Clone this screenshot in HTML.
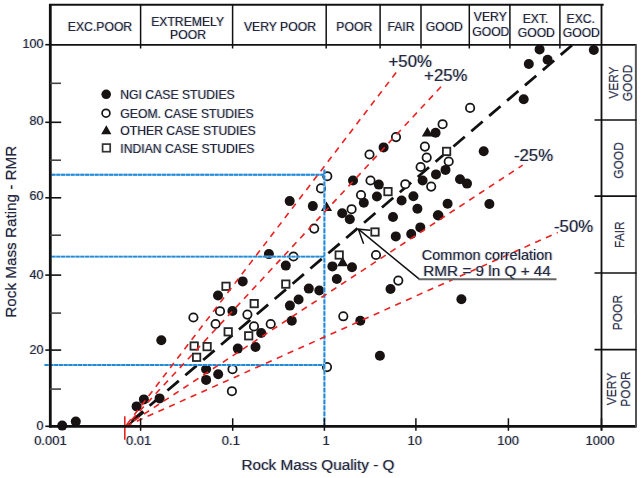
<!DOCTYPE html>
<html><head><meta charset="utf-8"><title>RMR vs Q</title>
<style>
html,body{margin:0;padding:0;background:#fff;}
body{width:641px;height:478px;overflow:hidden;}
svg{display:block;filter:blur(0.35px);}
</style></head>
<body>
<svg width="641" height="478" viewBox="0 0 641 478">
<rect width="641" height="478" fill="#fff"/>
<line x1="126.5" y1="425.5" x2="572.3" y2="45" stroke="#111" stroke-width="2.8" stroke-dasharray="14.9 8.6" stroke-dashoffset="16.66"/>
<polygon points="125.8,426.4 142.2,410.4 144.6,413.0 128.0,426.6" fill="#111"/>
<g fill="#181212">
<polygon points="326.5,201.6 332.1,211.0 320.9,211.0"/>
<polygon points="342.6,256.8 348.2,266.2 337.0,266.2"/>
<polygon points="427.4,127.0 433.0,136.4 421.8,136.4"/>
</g>
<g fill="#181212">
<circle cx="62.2" cy="425.6" r="5.0"/>
<circle cx="75.8" cy="421.6" r="5.0"/>
<circle cx="136.6" cy="406.4" r="5.0"/>
<circle cx="143.9" cy="399.4" r="5.0"/>
<circle cx="159.6" cy="398.4" r="5.0"/>
<circle cx="161.3" cy="340.3" r="5.0"/>
<circle cx="237.8" cy="348.6" r="5.0"/>
<circle cx="206.1" cy="369.2" r="5.0"/>
<circle cx="206.1" cy="379.9" r="5.0"/>
<circle cx="218.2" cy="374.3" r="5.0"/>
<circle cx="268.9" cy="254.1" r="5.0"/>
<circle cx="242.7" cy="281.4" r="5.0"/>
<circle cx="218.0" cy="295.5" r="5.0"/>
<circle cx="232.4" cy="311.0" r="5.0"/>
<circle cx="261.2" cy="333.0" r="5.0"/>
<circle cx="255.5" cy="347.0" r="5.0"/>
<circle cx="291.8" cy="320.8" r="5.0"/>
<circle cx="285.8" cy="265.6" r="5.0"/>
<circle cx="308.8" cy="288.6" r="5.0"/>
<circle cx="319.3" cy="290.5" r="5.0"/>
<circle cx="298.6" cy="299.5" r="5.0"/>
<circle cx="289.9" cy="305.6" r="5.0"/>
<circle cx="332.4" cy="266.4" r="5.0"/>
<circle cx="336.8" cy="279.0" r="5.0"/>
<circle cx="352.0" cy="267.2" r="5.0"/>
<circle cx="289.7" cy="201.1" r="5.0"/>
<circle cx="312.8" cy="206.1" r="5.0"/>
<circle cx="383.6" cy="147.4" r="5.0"/>
<circle cx="353.0" cy="180.5" r="5.0"/>
<circle cx="378.8" cy="184.6" r="5.0"/>
<circle cx="363.8" cy="202.8" r="5.0"/>
<circle cx="376.9" cy="196.5" r="5.0"/>
<circle cx="401.6" cy="200.5" r="5.0"/>
<circle cx="413.4" cy="196.3" r="5.0"/>
<circle cx="417.4" cy="208.8" r="5.0"/>
<circle cx="342.2" cy="213.2" r="5.0"/>
<circle cx="349.8" cy="219.2" r="5.0"/>
<circle cx="393.0" cy="217.0" r="5.0"/>
<circle cx="395.8" cy="236.4" r="5.0"/>
<circle cx="411.2" cy="234.0" r="5.0"/>
<circle cx="420.3" cy="227.4" r="5.0"/>
<circle cx="437.9" cy="215.3" r="5.0"/>
<circle cx="435.6" cy="132.8" r="5.0"/>
<circle cx="445.5" cy="169.9" r="5.0"/>
<circle cx="436.0" cy="174.4" r="5.0"/>
<circle cx="422.6" cy="180.5" r="5.0"/>
<circle cx="460.0" cy="179.2" r="5.0"/>
<circle cx="467.0" cy="183.6" r="5.0"/>
<circle cx="483.7" cy="151.3" r="5.0"/>
<circle cx="447.6" cy="203.7" r="5.0"/>
<circle cx="438.5" cy="215.5" r="5.0"/>
<circle cx="489.4" cy="204.0" r="5.0"/>
<circle cx="523.7" cy="99.2" r="5.0"/>
<circle cx="539.6" cy="49.4" r="5.0"/>
<circle cx="528.8" cy="64.0" r="5.0"/>
<circle cx="547.6" cy="59.7" r="5.0"/>
<circle cx="593.8" cy="50.0" r="5.0"/>
<circle cx="360.3" cy="320.8" r="5.0"/>
<circle cx="379.9" cy="355.7" r="5.0"/>
<circle cx="390.5" cy="289.0" r="5.0"/>
<circle cx="461.4" cy="299.3" r="5.0"/>
</g>
<g fill="#fff" stroke="#151515" stroke-width="1.75">
<circle cx="232.5" cy="369.2" r="4.2"/>
<circle cx="231.9" cy="391.2" r="4.2"/>
<circle cx="220.0" cy="311.2" r="4.2"/>
<circle cx="193.4" cy="317.5" r="4.2"/>
<circle cx="215.6" cy="324.0" r="4.2"/>
<circle cx="247.4" cy="314.6" r="4.2"/>
<circle cx="254.0" cy="326.4" r="4.2"/>
<circle cx="270.7" cy="324.0" r="4.2"/>
<circle cx="327.0" cy="367.1" r="4.2"/>
<circle cx="343.3" cy="316.3" r="4.2"/>
<circle cx="327.3" cy="176.2" r="4.2"/>
<circle cx="321.0" cy="188.4" r="4.2"/>
<circle cx="314.2" cy="228.6" r="4.2"/>
<circle cx="396.0" cy="137.1" r="4.2"/>
<circle cx="369.5" cy="154.5" r="4.2"/>
<circle cx="370.5" cy="180.5" r="4.2"/>
<circle cx="361.0" cy="195.0" r="4.2"/>
<circle cx="351.6" cy="209.2" r="4.2"/>
<circle cx="405.3" cy="184.2" r="4.2"/>
<circle cx="431.2" cy="186.6" r="4.2"/>
<circle cx="420.6" cy="167.0" r="4.2"/>
<circle cx="426.7" cy="157.6" r="4.2"/>
<circle cx="424.9" cy="146.6" r="4.2"/>
<circle cx="442.6" cy="124.2" r="4.2"/>
<circle cx="448.7" cy="161.5" r="4.2"/>
<circle cx="470.1" cy="107.9" r="4.2"/>
<circle cx="376.0" cy="255.0" r="4.2"/>
<circle cx="398.3" cy="280.6" r="4.2"/>
<circle cx="293.5" cy="256.5" r="4.2"/>
</g>
<g fill="#fff" stroke="#262626" stroke-width="1.8">
<rect x="190.5" y="342.3" width="7.4" height="7.4"/>
<rect x="203.4" y="342.9" width="7.4" height="7.4"/>
<rect x="192.9" y="353.6" width="7.4" height="7.4"/>
<rect x="222.3" y="282.6" width="7.4" height="7.4"/>
<rect x="250.5" y="299.9" width="7.4" height="7.4"/>
<rect x="224.5" y="328.1" width="7.4" height="7.4"/>
<rect x="245.0" y="332.1" width="7.4" height="7.4"/>
<rect x="282.1" y="280.4" width="7.4" height="7.4"/>
<rect x="335.5" y="251.3" width="7.4" height="7.4"/>
<rect x="384.3" y="187.9" width="7.4" height="7.4"/>
<rect x="371.3" y="228.3" width="7.4" height="7.4"/>
<rect x="442.9" y="147.7" width="7.4" height="7.4"/>
</g>
<g stroke="#a6cff2" stroke-width="1.9" fill="none">
<line x1="51.5" y1="174.7" x2="324.4" y2="174.7"/>
<line x1="51.5" y1="256.6" x2="324.4" y2="256.6"/>
<line x1="44.5" y1="365.0" x2="324.4" y2="365.0"/>
<line x1="324.4" y1="169.6" x2="324.4" y2="426"/>
</g>
<g stroke="#1e8ad8" stroke-width="1.9" fill="none" stroke-dasharray="4 0.8">
<line x1="51.5" y1="174.7" x2="324.4" y2="174.7"/>
<line x1="51.5" y1="256.6" x2="324.4" y2="256.6"/>
<line x1="44.5" y1="365.0" x2="324.4" y2="365.0"/>
</g>
<line x1="324.4" y1="169.6" x2="324.4" y2="426" stroke="#1e8ad8" stroke-width="1.9" stroke-dasharray="4.4 1.5"/>
<g stroke="#eb2020" stroke-width="1.6" fill="none" stroke-dasharray="6.2 5.6">
<line x1="125.6" y1="426.2" x2="396.8" y2="71.6" stroke-dashoffset="9.3"/>
<line x1="125.6" y1="426.2" x2="442.2" y2="85.4" stroke-dashoffset="3.0"/>
<line x1="125.6" y1="426.2" x2="522.7" y2="165.1" stroke-dashoffset="1.7"/>
<line x1="125.6" y1="426.2" x2="557.8" y2="232.4" stroke-dashoffset="11.3"/>
</g>
<line x1="124.8" y1="416.2" x2="124.8" y2="439.7" stroke="#eb2020" stroke-width="1.6"/>
<g stroke="#111" fill="none">
<line x1="49" y1="4.8" x2="603.7" y2="4.8" stroke-width="1.9"/>
<line x1="49" y1="44.8" x2="636.5" y2="44.8" stroke-width="1.8"/>
<line x1="140.6" y1="4.8" x2="140.6" y2="48.5" stroke-width="1.5"/>
<line x1="232.6" y1="4.8" x2="232.6" y2="48.5" stroke-width="1.5"/>
<line x1="326.2" y1="4.8" x2="326.2" y2="48.5" stroke-width="1.5"/>
<line x1="380.1" y1="4.8" x2="380.1" y2="48.5" stroke-width="1.5"/>
<line x1="421.0" y1="4.8" x2="421.0" y2="48.5" stroke-width="1.5"/>
<line x1="469.3" y1="4.8" x2="469.3" y2="48.5" stroke-width="1.5"/>
<line x1="509.9" y1="4.8" x2="509.9" y2="48.5" stroke-width="1.5"/>
<line x1="559.9" y1="4.8" x2="559.9" y2="48.5" stroke-width="1.5"/>
<line x1="601.5" y1="4.8" x2="601.5" y2="430.5" stroke-width="1.8"/>
<line x1="50.3" y1="3.9" x2="50.3" y2="427.6" stroke-width="2.8"/>
<line x1="49" y1="426.3" x2="636.6" y2="426.3" stroke-width="2.8"/>
<line x1="635.9" y1="44.8" x2="636" y2="427" stroke="#555" stroke-width="2"/>
<line x1="594.5" y1="120.0" x2="636.5" y2="120.0" stroke-width="1.6"/>
<line x1="594.5" y1="196.1" x2="636.5" y2="196.1" stroke-width="1.6"/>
<line x1="594.5" y1="273.0" x2="636.5" y2="273.0" stroke-width="1.6"/>
<line x1="594.5" y1="349.6" x2="636.5" y2="349.6" stroke-width="1.6"/>
<line x1="45.3" y1="122.3" x2="61.2" y2="122.3" stroke-width="1.6"/>
<line x1="45.3" y1="197.8" x2="61.2" y2="197.8" stroke-width="1.6"/>
<line x1="45.3" y1="275.1" x2="61.2" y2="275.1" stroke-width="1.6"/>
<line x1="45.3" y1="350.1" x2="61.2" y2="350.1" stroke-width="1.6"/>
<line x1="45.3" y1="44.7" x2="50" y2="44.7" stroke-width="1.6"/>
<line x1="45.3" y1="426.3" x2="50" y2="426.3" stroke-width="1.6"/>
<line x1="50" y1="83.3" x2="61" y2="83.3" stroke-width="1.6" stroke="#444"/>
<line x1="50" y1="160.2" x2="61" y2="160.2" stroke-width="1.6" stroke="#444"/>
<line x1="50" y1="235.2" x2="61" y2="235.2" stroke-width="1.6" stroke="#444"/>
<line x1="50" y1="313.1" x2="61" y2="313.1" stroke-width="1.6" stroke="#444"/>
<line x1="50" y1="389.1" x2="61" y2="389.1" stroke-width="1.6" stroke="#444"/>
<line x1="140.6" y1="418.3" x2="140.6" y2="430.8" stroke-width="1.5"/>
<line x1="232.7" y1="418.3" x2="232.7" y2="430.8" stroke-width="1.5"/>
<line x1="324.4" y1="418.3" x2="324.4" y2="430.8" stroke-width="1.5"/>
<line x1="415.9" y1="418.3" x2="415.9" y2="430.8" stroke-width="1.5"/>
<line x1="508.4" y1="418.3" x2="508.4" y2="430.8" stroke-width="1.5"/>
<line x1="601.5" y1="418.3" x2="601.5" y2="430.8" stroke-width="1.5"/>
</g>
<g stroke="#111" stroke-width="1.5" fill="none">
<polyline points="370.4,230.2 358.4,229.2 363.6,243.8"/>
<line x1="358.4" y1="229.2" x2="419.3" y2="279.2"/>
</g>
<line x1="418.6" y1="279.3" x2="556.5" y2="279.3" stroke="#666" stroke-width="2"/>
<defs><filter id="fr" x="-2%" y="-10%" width="104%" height="120%" color-interpolation-filters="sRGB"><feOffset in="SourceAlpha" dx="-0.6" dy="0" result="a"/><feFlood flood-color="#f0a040" flood-opacity="0.5"/><feComposite in2="a" operator="in" result="o"/><feOffset in="SourceAlpha" dx="0.6" dy="0" result="b"/><feFlood flood-color="#3a9af5" flood-opacity="0.5"/><feComposite in2="b" operator="in" result="bl"/><feMerge><feMergeNode in="o"/><feMergeNode in="bl"/><feMergeNode in="SourceGraphic"/></feMerge></filter></defs>
<g font-family='"Liberation Sans", Arial, sans-serif' fill="#272742" stroke="#272742" stroke-width="0" filter="url(#fr)">
<g font-size="12.2" text-anchor="middle">
<text x="100.0" y="31.2">EXC.POOR</text>
<text x="187.6" y="26.0">EXTREMELY</text>
<text x="188.0" y="38.6">POOR</text>
<text x="280.0" y="31.2">VERY POOR</text>
<text x="354.3" y="31.2">POOR</text>
<text x="401.0" y="31.2">FAIR</text>
<text x="444.3" y="31.2">GOOD</text>
<text x="490.3" y="21.4">VERY</text>
<text x="490.8" y="36.2">GOOD</text>
<text x="535.6" y="23.2">EXT.</text>
<text x="536.3" y="37.1">GOOD</text>
<text x="580.8" y="23.2">EXC.</text>
<text x="581.3" y="37.1">GOOD</text>
</g>
<g font-size="12" text-anchor="middle" fill="#3a3a58" stroke="none">
<text transform="translate(617.6,82.6) rotate(-90)" x="0" y="0">VERY</text>
<text transform="translate(632.3,83.0) rotate(-90)" x="0" y="0">GOOD</text>
<text transform="translate(622.7,160.5) rotate(-90)" x="0" y="0">GOOD</text>
<text transform="translate(624.4,234.7) rotate(-90)" x="0" y="0">FAIR</text>
<text transform="translate(621.8,312.6) rotate(-90)" x="0" y="0">POOR</text>
<text transform="translate(615.7,389.0) rotate(-90)" x="0" y="0">VERY</text>
<text transform="translate(629.5,389.0) rotate(-90)" x="0" y="0">POOR</text>
</g>
<g font-size="12.5" text-anchor="end">
<text x="43.4" y="48.3">100</text>
<text x="43.4" y="125.0">80</text>
<text x="43.4" y="200.3">60</text>
<text x="43.4" y="278.8">40</text>
<text x="43.4" y="353.8">20</text>
<text x="43.4" y="430.2">0</text>
</g>
<g font-size="13" text-anchor="middle">
<text x="50.4" y="445.2">0.001</text>
<text x="138.6" y="445.2">0.01</text>
<text x="230.9" y="445.2">0.1</text>
<text x="326.0" y="445.2">1</text>
<text x="414.8" y="445.2">10</text>
<text x="508.1" y="445.2">100</text>
<text x="599.9" y="445.2">1000</text>
</g>
<text x="241.4" y="470.4" font-size="15.3">Rock Mass Quality - Q</text>
<text transform="translate(15.5,317.7) rotate(-90)" x="0" y="0" font-size="15.25">Rock Mass Rating - RMR</text>
<g font-size="12.2">
<text x="120.3" y="98.6">NGI CASE STUDIES</text>
<text x="120.3" y="117.7">GEOM. CASE STUDIES</text>
<text x="120.3" y="135.0">OTHER CASE STUDIES</text>
<text x="120.3" y="152.7">INDIAN CASE STUDIES</text>
</g>
<g font-size="16.8">
<text x="388.5" y="66.6">+50%</text>
<text x="424.1" y="80.8">+25%</text>
<text x="513.9" y="161.2">-25%</text>
<text x="554.0" y="231.5">-50%</text>
</g>
<text x="421.8" y="259.9" font-size="14.5">Common correlation</text>
<text x="423.3" y="275.8" font-size="15.3">RMR = 9 ln Q + 44</text>
</g>
<circle cx="106.2" cy="94.3" r="4.8" fill="#181212"/>
<circle cx="106.0" cy="113.2" r="3.9" fill="#fff" stroke="#151515" stroke-width="1.7"/>
<polygon points="106.3,125.3 111.4,134.2 101.2,134.2" fill="#181212"/>
<rect x="102.6" y="144.1" width="7.6" height="7.6" fill="#fff" stroke="#333" stroke-width="1.7"/>
</svg>
</body></html>
